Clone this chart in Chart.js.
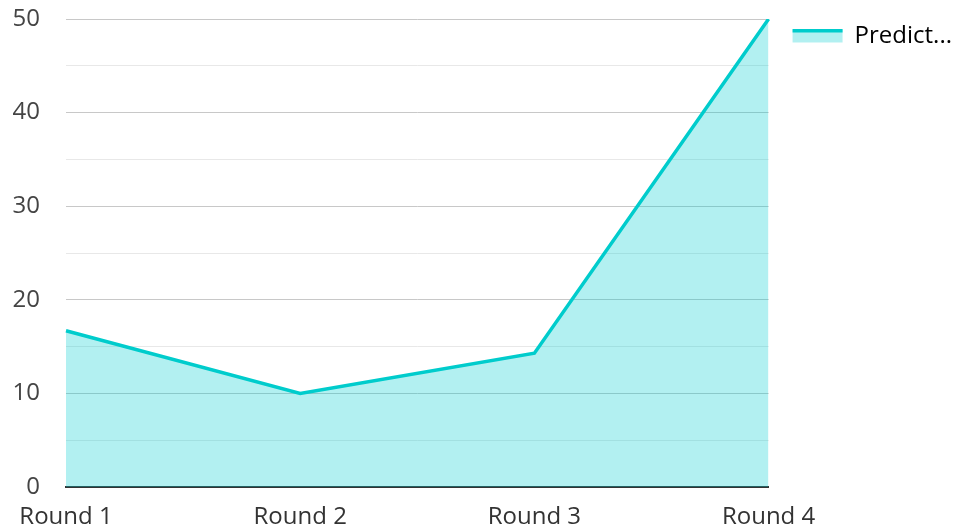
<!DOCTYPE html>
<html lang="en">
<head>
    <meta charset="UTF-8">
    <title>Predictions by round</title>
    <script src="https://cdn.jsdelivr.net/npm/chart.js"></script>
    <style>
        body { margin: 0; padding: 0; background: #fff; }
        .wrap { width: 955px; height: 528px; }
    </style>
</head>
<body>
    <div class="wrap"><canvas id="chart" width="955" height="528"></canvas></div>

    <script>
        // dati
        const rounds = ['Round 1', 'Round 2', 'Round 3', 'Round 4'];
        const predictions = [16.7, 10, 14.3, 50];
        const seriesName = 'Predict...';

        const lineColor = '#00cccc';
        const fillColor = 'rgba(0, 206, 209, 0.3)';
        const fontFamily = '"Open Sans", "Noto Sans", sans-serif';

        // linea spessa sopra il riquadro della legenda
        const legendLine = {
            id: 'legendLine',
            afterDraw(chart) {
                const boxes = chart.legend && chart.legend.legendHitBoxes;
                if (!boxes || !boxes.length) return;
                const b = boxes[0];
                const c = chart.ctx;
                c.save();
                c.fillStyle = lineColor;
                c.fillRect(b.left, b.top + 5, 50, 3.5);
                c.restore();
            }
        };

        new Chart(document.getElementById('chart'), {
            type: 'line',
            data: {
                labels: rounds,
                datasets: [{
                    label: seriesName,
                    data: predictions,
                    borderColor: lineColor,
                    backgroundColor: fillColor,
                    borderWidth: 3.5,
                    fill: 'origin',
                    tension: 0,
                    pointRadius: 0
                }]
            },
            options: {
                responsive: false,
                animation: false,
                layout: { padding: { top: 0, right: -7, left: 0, bottom: 0 } },
                plugins: {
                    tooltip: { enabled: false },
                    legend: {
                        position: 'right',
                        align: 'start',
                        labels: {
                            boxWidth: 50,
                            boxHeight: 13,
                            padding: 24,
                            color: '#333',
                            font: { family: fontFamily, size: 24 },
                            generateLabels: (chart) => [{
                                text: seriesName,
                                fillStyle: fillColor,
                                strokeStyle: 'rgba(0,0,0,0)',
                                lineWidth: 0,
                                datasetIndex: 0
                            }]
                        }
                    }
                },
                scales: {
                    x: {
                        offset: false,
                        z: 1,
                        grid: { display: false },
                        border: { display: true, color: '#333', width: 2 },
                        ticks: {
                            color: '#333',
                            padding: 8,
                            maxRotation: 0,
                            font: { family: fontFamily, size: 24 }
                        },
                        afterFit: (s) => { s.height = 41; }
                    },
                    y: {
                        min: 0,
                        max: 50,
                        border: { display: false },
                        grid: {
                            drawTicks: false,
                            color: (ctx) => {
                                const v = ctx.tick ? ctx.tick.value : 0;
                                if (v === 0) return 'rgba(0,0,0,0)';
                                return v % 10 === 0 ? '#c8c8c8' : '#e8e8e8';
                            }
                        },
                        ticks: {
                            stepSize: 5,
                            padding: 26,
                            color: '#444',
                            font: { family: fontFamily, size: 24 },
                            callback: (v) => (v % 10 === 0 ? v : '')
                        },
                        afterFit: (s) => {
                            s.width = 66;
                            s.paddingTop = 19;
                            s.paddingBottom = 0;
                        }
                    }
                }
            },
            plugins: [legendLine]
        });
    </script>
</body>
</html>
